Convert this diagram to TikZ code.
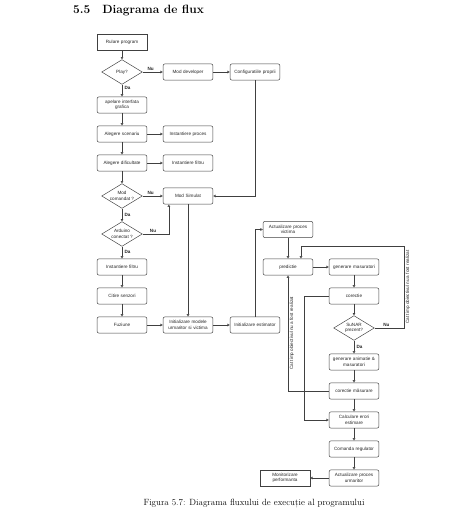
\documentclass[tikz,border=0pt]{standalone}
\usepackage{fontspec}
\newfontfamily\diafont{Liberation Sans}
\usetikzlibrary{shapes.geometric,arrows.meta}
\tikzset{
  bloc/.style={draw=black!75, line width=0.6pt, rounded corners=2.5pt, minimum width=62.5pt, minimum height=20.5pt, text width=58pt, align=center, inner sep=1pt, text=black!85, font=\diafont\fontsize{5.8}{6.8}\selectfont},
  blocdrept/.style={bloc, rounded corners=0pt},
  decizie/.style={draw=black!75, line width=0.6pt, diamond, aspect=1.65, inner sep=0pt, minimum width=51pt, minimum height=31pt, align=center, text=black!85, font=\diafont\fontsize{5.8}{6.8}\selectfont},
  sag/.style={draw=black!75, line width=0.6pt, -{Triangle[open,length=3pt,width=3.2pt]}},
  eticheta/.style={font=\diafont\bfseries\fontsize{5.8}{6.8}\selectfont, text=black!85, inner sep=1pt},
  nota/.style={font=\diafont\fontsize{5.8}{6.8}\selectfont, text=black!85, rotate=90, anchor=north, inner sep=2pt}
}
\begin{document}
\begin{tikzpicture}[x=1.255pt, y=-1.255pt]
          \useasboundingbox (0,0) rectangle (474,509);

          % Titlu si legenda
          \node[anchor=base west, inner sep=0pt, font=\fontsize{15}{18}\selectfont\bfseries] (titlu) at (73,14) {5.5\quad Diagrama de flux};
          \node[anchor=base, inner sep=0pt, font=\fontsize{11.3}{13}\selectfont] (legenda) at (254,505) {Figura 5.7: Diagrama fluxului de execuție al programului};

          % Coloana din stanga
          \node[blocdrept] (rulare) at (122,42.5) {Rulare program};
          \node[decizie] (play) at (122,72) {Play?};
          \node[bloc] (apelare) at (122,105) {apelare interfata\\grafica};
          \node[bloc] (scenariu) at (122,134) {Alegere scenariu};
          \node[bloc] (dific) at (122,163) {Alegere dificultate};
          \node[decizie] (comandat) at (122,196) {Mod\\comandat ?};
          \node[decizie] (arduino) at (122,234) {Arduino\\conectat ?};
          \node[bloc] (filtrust) at (122,267) {Instantiere filtru};
          \node[bloc] (senzori) at (122,296) {Citire senzori};
          \node[bloc] (fuziune) at (122,325) {Fuziune};

          % Coloana din mijloc
          \node[bloc] (moddev) at (188,72) {Mod developer};
          \node[bloc] (config) at (255,72) {Configuratiile proprii};
          \node[bloc] (instproc) at (188,134) {Instantiere proces};
          \node[bloc] (instfiltru) at (188,163) {Instantiere filtru};
          \node[bloc] (modsim) at (188,196) {Mod Simulat};
          \node[bloc] (initmod) at (188,325) {Initializare modele\\urmaritor si victima};
          \node[bloc] (initest) at (255,325) {Initializare estimator};

          % Bucla estimatorului
          \node[bloc] (actvic) at (288,229.5) {Actualizare proces\\victima};
          \node[bloc] (pred) at (288,267) {predictie};
          \node[bloc] (genmas) at (354,267) {generare masuratori};
          \node[bloc] (corectie) at (354,296) {corectie};
          \node[decizie] (sunar) at (354,328) {SuNAR\\prezent?};
          \node[bloc] (genanim) at (354,362) {generare animatie \&\\masuratori};
          \node[bloc] (corm) at (354,391) {corectie măsurare};
          \node[bloc] (calc) at (354,420) {Calculare erori\\estimare};
          \node[bloc] (comanda) at (354,449) {Comanda regulator};
          \node[bloc] (actu) at (354,478) {Actualizare proces\\urmaritor};
          \node[blocdrept] (monit) at (285,478) {Monitorizare\\performanta};
          \coordinate (bucla) at (404,246);

          % Legaturi
          \draw[sag] (rulare) -- (play);
          \draw[sag] (play) -- node[eticheta, pos=0.4, above=1pt] {Nu} (moddev);
          \draw[sag] (play) -- node[eticheta, pos=0.25, right=2pt] {Da} (apelare);
          \draw[sag] (moddev) -- (config);
          \draw[sag] (config) |- (modsim);
          \draw[sag] (apelare) -- (scenariu);
          \draw[sag] (scenariu) -- (instproc);
          \draw[sag] (scenariu) -- (dific);
          \draw[sag] (dific) -- (instfiltru);
          \draw[sag] (dific) -- (comandat);
          \draw[sag] (comandat) -- node[eticheta, pos=0.4, above=1pt] {Nu} (modsim);
          \draw[sag] (comandat) -- node[eticheta, pos=0.5, right=2pt] {Da} (arduino);
          \draw[sag] (arduino.east) -| node[eticheta, pos=0.2, above=1pt] {Nu} ([xshift=7.5pt]modsim.south west);
          \draw[sag] (arduino) -- node[eticheta, pos=0.45, right=2pt] {Da} (filtrust);
          \draw[sag] (filtrust) -- (senzori);
          \draw[sag] (senzori) -- (fuziune);
          \draw[sag] (fuziune) -- (initmod);
          \draw[sag] (modsim) -- (initmod);
          \draw[sag] (initmod) -- (initest);
          \draw[sag] (initest) |- (actvic);
          \draw[sag] (actvic) -- (pred);
          \draw[sag] (pred) -- (genmas);
          \draw[sag] (genmas) -- (corectie);
          \draw[sag] (corectie) -- (sunar);
          \draw[sag] (sunar) -- node[eticheta, pos=0.45, right=2pt] {Da} (genanim);
          \draw[sag] (genanim) -- (corm);
          \draw[sag] (corm) -- (calc);
          \draw[sag] (calc) -- (comanda);
          \draw[sag] (comanda) -- (actu);
          \draw[sag] (actu) -- (monit);
          \draw[sag] (corectie.west) -- ++(-25,0) |- (calc.west);
          \draw[sag] (corm.west) -| node[nota, pos=0.75] {Cat timp obiectivul nu a fost realizat} (pred.south);
          \draw[sag] (sunar.east) -| node[eticheta, pos=0.2, above=1pt] {Nu} node[nota, pos=0.75] {Cat timp obiectivul nu a fost realizat} (bucla) -| ([xshift=16.3pt]pred.north);

        \end{tikzpicture}
\end{document}
